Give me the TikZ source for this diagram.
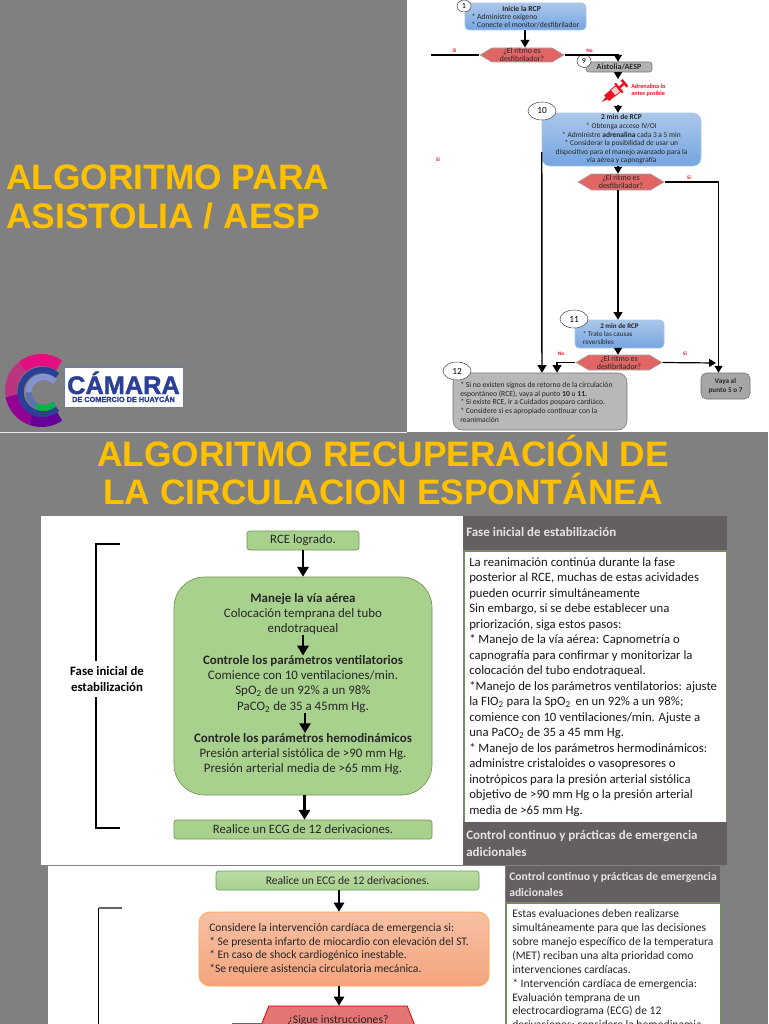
\documentclass[tikz,border=0pt]{standalone}
\usepackage{fontspec}
\setmainfont{Carlito}
\newfontfamily\arialfont{Liberation Sans}
\newfontfamily\logofont[BoldFont=*,BoldFeatures={FakeBold=1.6}]{Liberation Sans Bold}
\usepackage{tikz}
\usetikzlibrary{calc,positioning,arrows.meta,shapes.geometric,shapes.symbols}
\definecolor{PageGray}{HTML}{808080}
\definecolor{TitleGold}{HTML}{FFC000}
\definecolor{HeadGray}{HTML}{655F5F}
\definecolor{HeadText}{HTML}{E4E4E4}
\definecolor{BoxGreen}{HTML}{A9D18E}
\definecolor{EdgeGreen}{HTML}{70954F}
\definecolor{HexRed}{HTML}{E06666}
\definecolor{SiRed}{HTML}{F01020}
\definecolor{LogoBlue}{HTML}{2B3F96}
\definecolor{BlueTop}{HTML}{ABC7EA}
\definecolor{BlueLow}{HTML}{75A5E0}
\definecolor{OrangeTop}{HTML}{F7BFA3}
\definecolor{OrangeLow}{HTML}{F4A57E}
\tikzset{
  wh/.style 2 args={minimum width=#1*0.75pt,minimum height=#2*0.75pt,inner sep=0pt},
  flow/.style={draw=black,line width=1.1pt,->},
  flowthin/.style={draw=black,line width=0.9pt,->},
  bluebox/.style={rounded corners=3pt,draw=BlueTop,top color=BlueTop,bottom color=BlueLow,align=center,text=black!85,font=\fontsize{5.2}{6.2}\selectfont},
  graybox/.style={rounded corners=5pt,draw=black!55,fill=black!28,text=black!85,font=\fontsize{5.2}{6.2}\selectfont},
  hex/.style={signal,signal to=east and west,signal pointer angle=62,draw=black!35,fill=HexRed,align=center,inner sep=0pt,text=black!85,font=\fontsize{5.9}{6.3}\selectfont},
  num/.style={ellipse,draw=black!70,fill=white,inner sep=0pt,line width=0.4pt,font=\fontsize{6}{7}\selectfont},
  yesno/.style={text=SiRed,font=\fontsize{4}{5}\bfseries\selectfont},
  greenbox/.style={rounded corners=2pt,draw=EdgeGreen,fill=BoxGreen,line width=0.5pt,text=black!85,font=\fontsize{9.6}{12}\selectfont},
  phase/.style={align=center,font=\fontsize{9.7}{11.3}\selectfont,text=black!85},
  headbox/.style={fill=HeadGray,anchor=north west},
  headtxt/.style={anchor=west,inner sep=0pt,text=HeadText,align=left,font=\fontsize{9.7}{12.75}\bfseries\selectfont},
  bracket/.style={draw=black,line width=1pt},
  title/.style={text=TitleGold,inner sep=0pt,font=\arialfont\bfseries\fontsize{26.5}{28.6}\selectfont}
}
\begin{document}
\begin{tikzpicture}[x=0.75pt,y=-0.75pt,>=Triangle]
\useasboundingbox (0,0) rectangle (768,1024);
\clip (0,0) rectangle (768,1024);
\fill[PageGray] (0,0) rectangle (768,1024);
\fill[white] (407,0) rectangle (768,432);
\fill[white!92!black] (0,431.6) rectangle (407,432.6);
\fill[white] (41,516) rectangle (463,865);
\fill[white] (48,866) rectangle (505,1024);

\node[title,anchor=west,align=left] (asystitle) at (6,197) {ALGORITMO PARA\\ASISTOLIA / AESP};
\node[title,align=center] (rosctitle) at (383,470) {ALGORITMO RECUPERACIÓN DE\\LA CIRCULACION ESPONTÁNEA};

\coordinate (logoc) at (41.5,390.5);
\draw[line width=9pt,draw=magenta!80!purple] ($(logoc)+(-55:30.5)$) arc[start angle=-55,end angle=-130,radius=30.5];
\draw[line width=9pt,draw=magenta!45!violet] ($(logoc)+(-130:30.5)$) arc[start angle=-130,end angle=-190,radius=30.5];
\draw[line width=9pt,draw=violet!85!magenta] ($(logoc)+(-190:30.5)$) arc[start angle=-190,end angle=-250,radius=30.5];
\draw[line width=9pt,draw=violet!80!blue] ($(logoc)+(-250:30.5)$) arc[start angle=-250,end angle=-305,radius=30.5];
\coordinate (logob) at (42.5,392);\coordinate (logol) at (44,392.5);
\draw[line width=4.8pt,draw=LogoBlue] ($(logob)+(-48:22)$) arc[start angle=-48,end angle=-312,radius=22];
\draw[line width=4.5pt,draw=cyan!30!blue!50] ($(logol)+(-45:15.5)$) arc[start angle=-45,end angle=-180,radius=15.5];
\draw[line width=4.5pt,draw=LogoBlue!75] ($(logol)+(180:15.5)$) arc[start angle=180,end angle=120,radius=15.5];
\draw[line width=4.5pt,draw=green!60!cyan!70!black] ($(logol)+(120:15.5)$) arc[start angle=120,end angle=48,radius=15.5];
\node[draw=LogoBlue!70,fill=white,wh={119}{40},line width=0.5pt] (logobox) at (123.5,387) {};
\node[text=LogoBlue,inner sep=0pt,text depth=0pt,anchor=base,font=\logofont\bfseries\fontsize{19}{20}\selectfont] (logoname) at (123.5,394) {CÁMARA};
\node[text=LogoBlue,inner sep=0pt,text height=4pt,text depth=0pt,anchor=base,font=\logofont\bfseries\fontsize{5.5}{6}\selectfont] (logosub) at (123.5,402) {DE COMERCIO DE HUAYCÁN};

\node[bluebox,wh={121}{27},align=left,font=\fontsize{5.75}{6}\selectfont] (rcpone) at (525.5,16.5) {\hspace*{23pt}\textbf{Inicie la RCP}\\* Administre oxígeno\\* Conecte el monitor/desfibrilador};
\node[num,wh={14}{12}] (numone) at (464,6) {1};
\node[hex,wh={84}{14}] (hexone) at (522,55) {¿El ritmo es\\desfibrilador?};
\node[graybox,wh={66}{10},fill=black!30,rounded corners=2pt,font=\fontsize{6}{6}\bfseries\selectfont] (asyst) at (619,67) {Aistolia/AESP};
\node[num,wh={14}{13}] (numnine) at (584,61) {9};
\coordinate (sileft) at (431,55);\coordinate (hexcorner) at (618,55);
\coordinate (syrtop) at (618,79);\coordinate (syrlow) at (618,105);
\node[bluebox,rounded corners=6pt,wh={159}{53},font=\fontsize{5.6}{6.45}\selectfont] (rcpten) at (621.5,139.5) {\textbf{2 min de RCP}\\* Obtenga acceso IV/OI\\* Administre \textbf{adrenalina} cada 3 a 5 min\\* Considerar la posibilidad de usar un\\dispositivo para el manejo avanzado para la\\vía aérea y capnografía};
\node[num,wh={28}{18},font=\fontsize{7}{8}\selectfont] (numten) at (542,111) {10};
\node[hex,wh={86}{16}] (hextwo) at (621,182) {¿El ritmo es\\desfibrilador?};
\node[bluebox,wh={89}{28},align=left,font=\fontsize{5.3}{6.3}\selectfont] (rcpel) at (619.5,334) {\hspace*{13pt}\textbf{2 min de RCP}\hspace*{13pt}\\* Trate las causas\\reversibles};
\node[num,wh={28}{18},font=\fontsize{7}{8}\selectfont] (numel) at (574,319) {11};
\node[hex,wh={86}{15}] (hexthree) at (619,362.5) {¿El ritmo es\\desfibrilador?};
\node[graybox,wh={174}{57},rounded corners=7pt,anchor=center] (notwelve) at (540,401.5) {};
\node[anchor=north west,align=left,inner sep=0pt,font=\fontsize{5.75}{6.45}\selectfont,text=black!85] (notwelvetxt) at (460,382) {* Si no existen signos de retorno de la circulación\\espontáneo (RCE), vaya al punto \textbf{10} u \textbf{11.}\\* Si existe RCE, ir a Cuidados posparo cardiáco.\\* Considere si es apropiado continuar con la\\reanimación};
\node[num,wh={28}{18},font=\fontsize{7}{8}\selectfont] (numtw) at (457,371) {12};
\node[graybox,wh={49}{26},rounded corners=4pt,align=center,fill=black!35,font=\fontsize{5.4}{6.8}\bfseries\selectfont] (gofive) at (725.5,386) {Vaya al\\punto 5 o 7};

\draw[flow] (rcpone.south-|525,0)--(525,47.5);
\draw[flowthin,-] (sileft)--(hexone.west);
\draw[flowthin] (hexone.east)--(hexcorner)--(asyst.north-|618,0);
\draw[flowthin] (asyst.south-|618,0)--(syrtop);
\draw[flowthin] (syrlow)--(rcpten.north-|618,0);
\draw[flowthin] (rcpten.south-|618,0)--(hextwo.north-|618,0);
\draw[flow] (hextwo.south-|618,0)--(rcpel.north-|618,0);
\draw[flowthin] (rcpel.south-|618,0)--(hexthree.north-|618,0);
\draw[flow] (rcpten.west|-0,152)--(notwelve.north-|542,0);
\draw[flowthin] (hextwo.east)-|(gofive.north-|718.5,0);
\draw[flowthin] (hexthree.east)--(716,363);
\draw[flow] (hexthree.west)-|(notwelve.north-|557,0);

\node[yesno] (sione) at (454.5,50.5) {Si};\node[yesno] (noone) at (589.5,50.5) {No};
\node[yesno] (sicol) at (438,160) {Si};\node[yesno] (sitwo) at (689,178) {Si};
\node[yesno] (sithree) at (685,354) {Si};\node[yesno] (nothree) at (561,354) {No};
\node[yesno,align=left,inner sep=0pt,anchor=west,font=\fontsize{4.6}{5.4}\bfseries\selectfont] (adrena) at (631,90) {Adrenalina lo\\antes posible};

\begin{scope}[shift={(602,102)},x={(0.5775pt,0.48pt)},y={(0.48pt,-0.5775pt)}]
\fill[SiRed] (0,0)--(7,-1.8)--(7,1.8)--cycle;
\fill[SiRed] (6,-3.8)--(14,-3.8)--(14,3.8)--(6,3.8)--cycle;
\draw[SiRed,fill=white!80!red,line width=0.6pt] (14,-3.8)--(21,-3.8)--(21,3.8)--(14,3.8)--cycle;
\fill[SiRed] (21,-6)--(23,-6)--(23,6)--(21,6)--cycle;
\fill[SiRed] (23,-1.2)--(28,-1.2)--(28,1.2)--(23,1.2)--cycle;
\fill[SiRed] (28,-4.5)--(30.5,-4.5)--(30.5,4.5)--(28,4.5)--cycle;
\end{scope}

\node[greenbox,wh={112}{19},rounded corners=2pt] (rcebox) at (303,540.5) {RCE logrado.};
\node[greenbox,wh={258}{218},rounded corners=23pt] (bigbox) at (303,686) {};
\node[greenbox,wh={258}{19}] (ecgtop) at (303,829.5) {Realice un ECG de 12 derivaciones.};
\node[phase,inner sep=0pt] (airway) at (303,614) {\textbf{Maneje la vía aérea}\\Colocación temprana del tubo\\endotraqueal};
\node[phase,inner sep=0pt] (ventil) at (303,684) {\textbf{Controle los parámetros ventilatorios}\\Comience con 10 ventilaciones/min.\\SpO\textsubscript{2} de un 92\% a un 98\%\\PaCO\textsubscript{2} de 35 a 45mm Hg.};
\node[phase,inner sep=0pt] (hemod) at (303,754) {\textbf{Controle los parámetros hemodinámicos}\\Presión arterial sistólica de >90 mm Hg.\\Presión arterial media de >65 mm Hg.};
\node[phase,text=black,font=\fontsize{9.6}{12.5}\selectfont] (brackettxt) at (107,679) {\textbf{Fase inicial de}\\\textbf{estabilización}};
\coordinate (brtop) at (120,544);\coordinate (brlow) at (120,828);
\draw[flow,line width=1.6pt] (rcebox.south)--(bigbox.north);
\draw[flow,line width=1.6pt] (airway.south)--(ventil.north);
\draw[flow,line width=1.6pt] (ventil.south-|305,0)--(hemod.north-|305,0);
\draw[flow,line width=1.6pt] (bigbox.south-|304.5,0)--(ecgtop.north-|304.5,0);
\draw[bracket] (brtop)-|(brackettxt.north-|96,0);
\draw[bracket] (brlow)-|(brackettxt.south-|96,0);

\node[headbox,wh={264}{34}] (headone) at (463,516) {};
\node[headtxt] (headonetxt) at (466,532) {Fase inicial de estabilización};
\node[draw=EdgeGreen,fill=white,wh={262}{271},anchor=north west,line width=0.5pt] (textone) at (464,551) {};
\node[anchor=north west,align=left,inner sep=0pt,font=\fontsize{9.55}{11.62}\selectfont,text=black!90] (textonetxt) at (469,557) {La reanimación continúa durante la fase\\posterior al RCE, muchas de estas acividades\\pueden ocurrir simultáneamente\\Sin embargo, si se debe establecer una\\priorización, siga estos pasos:\\* Manejo de la vía aérea: Capnometría o\\capnografía para confirmar y monitorizar la\\colocación del tubo endotraqueal.\\*Manejo de los parámetros ventilatorios: ajuste\\la FIO\textsubscript{2} para la SpO\textsubscript{2}\, en un 92\% a un 98\%;\\comience con 10 ventilaciones/min. Ajuste a\\una PaCO\textsubscript{2} de 35 a 45 mm Hg.\\* Manejo de los parámetros hermodinámicos:\\administre cristaloides o vasopresores o\\inotrópicos para la presión arterial sistólica\\objetivo de >90 mm Hg o la presión arterial\\media de >65 mm Hg.};
\node[headbox,wh={264}{43}] (headtwo) at (463,822) {};
\node[headtxt] (headtwotxt) at (466,843.5) {Control continuo y prácticas de emergencia\\adicionales};

\node[greenbox,wh={263}{19},draw=black!60!green!60,top color=BoxGreen!80,bottom color=BoxGreen,font=\fontsize{8.7}{10}\selectfont] (ecglow) at (347.5,880.5) {Realice un ECG de 12 derivaciones.};
\node[rounded corners=8pt,wh={290}{74},draw=orange!70,top color=OrangeTop,bottom color=OrangeLow,line width=0.5pt] (orangebox) at (344,949) {};
\node[anchor=north west,align=left,inner sep=0pt,font=\fontsize{8.65}{10.3}\selectfont,text=black!85] (orangetxt) at (209,923) {Considere la intervención cardíaca de emergencia si:\\* Se presenta infarto de miocardio con elevación del ST.\\* En caso de shock cardiogénico inestable.\\*Se requiere asistencia circulatoria mecánica.};
\node[signal,signal to=east and west,signal pointer angle=137,wh={162}{60},draw=red!85!black,fill=HexRed!90!white,line width=0.6pt] (followhex) at (338,1036) {};
\node[font=\fontsize{8.7}{10}\selectfont,text=black!85] (followtxt) at (338,1020) {¿Sigue instrucciones?};
\coordinate (grayend) at (232,1023.5);\coordinate (bkttop) at (122,908);\coordinate (bktlow) at (98.7,1030);
\draw[black!60,line width=0.9pt] (grayend)--(262,1023.5);
\draw[flow,line width=1.4pt] (ecglow.south-|339,0)--(orangebox.north-|339,0);
\draw[flow,line width=1.4pt] (orangebox.south-|339,0)--(followhex.north-|339,0);
\draw[black!60,line width=1pt] (bkttop)--(98.7,908);\draw[black,line width=0.6pt] (98.7,908)--(bktlow);

\node[headbox,wh={214}{36}] (headlow) at (506,866) {};
\node[headtxt,font=\fontsize{8.7}{12}\bfseries\selectfont] (headlowtxt) at (509,884) {Control continuo y prácticas de emergencia\\adicionales};
\node[draw=EdgeGreen,fill=white,wh={214}{130},anchor=north west,line width=0.5pt] (textlow) at (506,903) {};
\node[anchor=north west,align=left,inner sep=0pt,font=\fontsize{8.7}{10.4}\selectfont,text=black!85] (textlowtxt) at (512,909.5) {Estas evaluaciones deben realizarse\\simultáneamente para que las decisiones\\sobre manejo específico de la temperatura\\(MET) reciban una alta prioridad como\\intervenciones cardíacas.\\* Intervención cardíaca de emergencia:\\Evaluación temprana de un\\electrocardiograma (ECG) de 12\\derivaciones; considere la hemodinamia};
\end{tikzpicture}
\end{document}
